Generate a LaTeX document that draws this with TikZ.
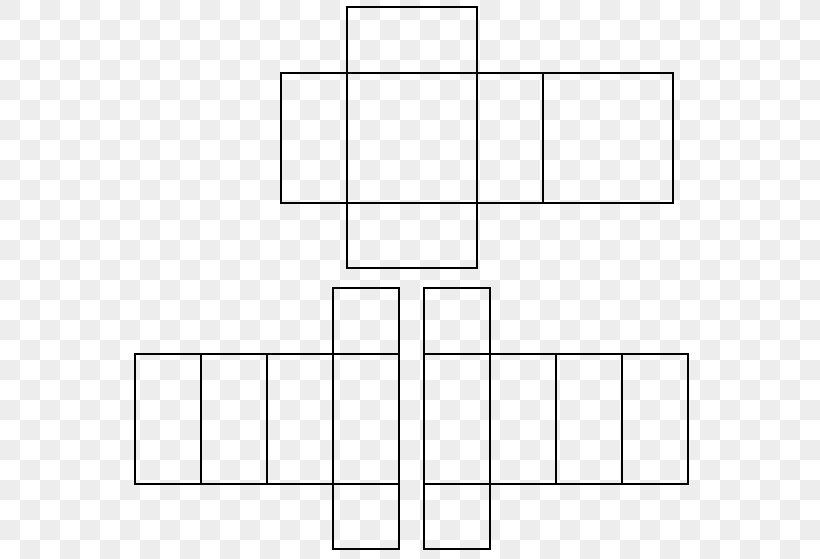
\documentclass[tikz,border=0pt]{standalone}
\usepackage{tikz}

\begin{document}
\begin{tikzpicture}
[
    x=1pt, y=-1pt,
    checker/.style={fill=black!7},
    panel/.style={draw=black, line width=2.3pt},
]
\useasboundingbox (0,0) rectangle (820,559);
\fill[white] (0,0) rectangle (820,559);
% transparency checkerboard
\foreach \i in {0,...,40}
  \foreach \j in {0,...,27}
  {
    \pgfmathtruncatemacro{\cellodd}{mod(\i+\j,2)}
    \ifnum\cellodd=0
      \fill[checker] (20*\i,20*\j) rectangle +(20,20);
    \fi
  };
% torso
\draw[panel] (347,7) rectangle (477,73);
\draw[panel] (281,73) rectangle (347,203);
\draw[panel] (347,73) rectangle (477,203);
\draw[panel] (477,73) rectangle (543,203);
\draw[panel] (543,73) rectangle (673,203);
\draw[panel] (347,203) rectangle (477,268);
% left arm
\draw[panel] (333,288) rectangle (399,354);
\foreach \x in {135,201,267,333}
  \draw[panel] (\x,354) rectangle +(66,130);
\draw[panel] (333,484) rectangle (399,549);
% right arm
\draw[panel] (424,288) rectangle (490,354);
\foreach \x in {424,490,556,622}
  \draw[panel] (\x,354) rectangle +(66,130);
\draw[panel] (424,484) rectangle (490,549);
\end{tikzpicture}
\end{document}
